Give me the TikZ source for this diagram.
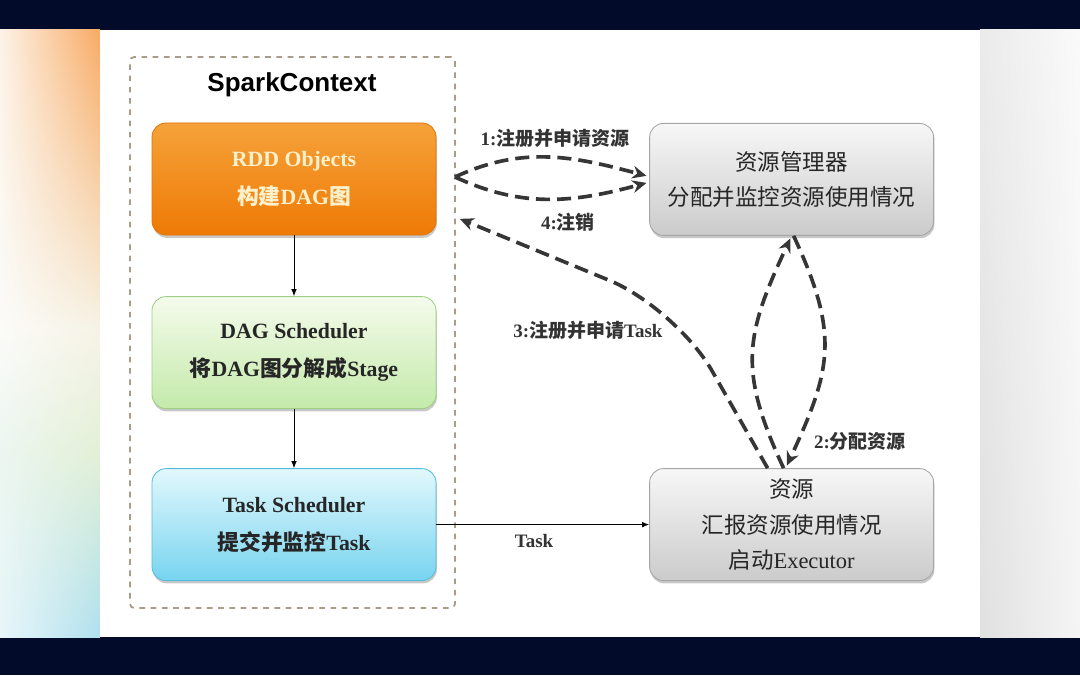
\documentclass[tikz,border=0pt]{standalone}
\usepackage{fontspec}
\setmainfont{Liberation Serif}
\newfontfamily\cjk{Noto Sans CJK SC}
\newfontfamily\headfont{Liberation Sans}
\usepackage{tikz}
\usetikzlibrary{calc,positioning,arrows.meta,shadows,shadings}
\usepackage{xcolor}

\definecolor{navy}{HTML}{030B2B}
\definecolor{rddtop}{HTML}{F5A23A}
\definecolor{rddbot}{HTML}{EF7A05}
\definecolor{rddline}{HTML}{E07408}
\definecolor{rddtext}{HTML}{FDF1CC}
\definecolor{dagtop}{HTML}{F5FBEC}
\definecolor{dagbot}{HTML}{C4EAAA}
\definecolor{dagline}{HTML}{9FCF86}
\definecolor{tsktop}{HTML}{E2F8FC}
\definecolor{tskbot}{HTML}{78D4F0}
\definecolor{tskline}{HTML}{55BCDB}
\definecolor{restop}{HTML}{F7F7F7}
\definecolor{resbot}{HTML}{CBCBCB}
\definecolor{resline}{HTML}{A6A6A6}
\definecolor{scline}{HTML}{A99C8A}
\definecolor{dashgrey}{HTML}{363636}
\definecolor{blurA}{HTML}{FDF3E8}
\definecolor{blurB}{HTML}{F8AA64}
\definecolor{blurC}{HTML}{FBFBF8}
\definecolor{blurD}{HTML}{F6F3E6}
\definecolor{blurE}{HTML}{ECF6F0}
\definecolor{blurF}{HTML}{E2F0D6}
\definecolor{blurG}{HTML}{E8F6FA}
\definecolor{blurH}{HTML}{B0E0EE}

\newcommand{\zh}[1]{{\cjk #1}}

\tikzset{
    box/.style={rounded corners=0.35cm, minimum width=7.1cm, minimum height=2.8cm,
        align=center, draw, line width=0.6pt,
        drop shadow={shadow xshift=0.6pt, shadow yshift=-2pt, opacity=0.3, fill=black!70}},
    rddbox/.style={box, top color=rddtop, bottom color=rddbot, draw=rddline, text=rddtext,
        font=\bfseries\fontsize{15.5}{27}\selectfont},
    dagbox/.style={box, top color=dagtop, bottom color=dagbot, draw=dagline, text=black!85,
        font=\bfseries\fontsize{15.5}{27}\selectfont},
    taskbox/.style={box, top color=tsktop, bottom color=tskbot, draw=tskline, text=black!85,
        font=\bfseries\fontsize{15.5}{27}\selectfont},
    greybox/.style={box, top color=restop, bottom color=resbot, draw=resline, text=black!85,
        font=\fontsize{16}{25}\selectfont},
    flow/.style={line width=0.7pt, -{Latex[length=5pt,width=4pt]}},
    dashflow/.style={line width=2.6pt, color=dashgrey, dash pattern=on 10pt off 5pt,
        -{Stealth[length=10pt,width=9pt]}, shorten >=2pt},
    lbl/.style={font=\bfseries\fontsize{13.5}{16}\selectfont, text=black!80}
}

\begin{document}
\begin{tikzpicture}
    \useasboundingbox (0,0) rectangle (27,16.875);
    % screen frame
    \fill[navy] (0,0) rectangle (27,16.875);
    \shade[upper left=blurA, upper right=blurB, lower left=blurC, lower right=blurD] (0,8.6) rectangle (2.5,16.125);
    \shade[upper left=blurC, upper right=blurD, lower left=blurE, lower right=blurF] (0,5.5) rectangle (2.5,8.6);
    \shade[upper left=blurE, upper right=blurF, lower left=blurG, lower right=blurH] (0,0.95) rectangle (2.5,5.5);
    \shade[upper left=black!8, upper right=black!2, lower left=black!12, lower right=black!4] (24.5,0.95) rectangle (27,16.125);
    \fill[white] (2.5,0.95) rectangle (24.5,16.125);

    % SparkContext frame
    \node[draw=scline, line width=1.3pt, dash pattern=on 4pt off 4pt, rounded corners=3pt,
        minimum width=8.125cm, minimum height=13.775cm] (sc) at (7.3125,8.5625) {};
    \node[font=\headfont\bfseries\fontsize{18.5}{22}\selectfont] (title) at (7.3,14.75) {SparkContext};

    \node[rddbox] (rdd) at (7.35,12.4) {RDD Objects\\\zh{构建}DAG\zh{图}};
    \node[dagbox] (dag) at (7.35,8.06) {DAG Scheduler\\\zh{将}DAG\zh{图分解成}Stage};
    \node[taskbox] (tsch) at (7.35,3.76) {Task Scheduler\\\zh{提交并监控}Task};

    \node[greybox] (rm) at (19.79,12.39) {\zh{资源管理器}\\\zh{分配并监控资源使用情况}};
    \node[greybox] (res) at (19.79,3.76) {\zh{资源}\\\zh{汇报资源使用情况}\\\zh{启动}Executor};

    \draw[flow] (rdd) -- (dag);
    \draw[flow] (dag) -- (tsch);
    \draw[flow] (tsch.east) -- (res.west);
    \node[lbl] (ltask) at (13.35,3.35) {Task};

    % 1: register
    \coordinate (reg) at (11.375,12.45);
    \coordinate (unreg) at (11.43,11.43);
    \draw[dashflow] (reg) to[out=25,in=165] ([yshift=2pt]rm.west);
    \draw[dashflow] (reg) to[out=-25,in=195] ([yshift=-2pt]rm.west);
    \node[lbl] (l1) at (13.875,13.425) {1:\zh{注册并申请资源}};

    % 3 / 4
    \coordinate (knee) at (16.9,9.18);
    \draw[dashflow, rounded corners=1.8cm] ([xshift=-0.6cm]res.north) -- (knee) -- (unreg);
    \node[lbl] (l4) at (14.2,11.325) {4:\zh{注销}};
    \node[lbl] (l3) at (14.7,8.625) {3:\zh{注册并申请}Task};

    % 2: allocate
    \draw[dashflow] ([xshift=-0.2cm]res.north) to[out=115,in=-115,looseness=1.2] (rm.south);
    \draw[dashflow] ([xshift=0.05cm]rm.south) to[out=-65,in=65,looseness=1.2] ([xshift=-0.15cm]res.north);
    \node[lbl] (l2) at (21.5,5.85) {2:\zh{分配资源}};
\end{tikzpicture}
\end{document}
